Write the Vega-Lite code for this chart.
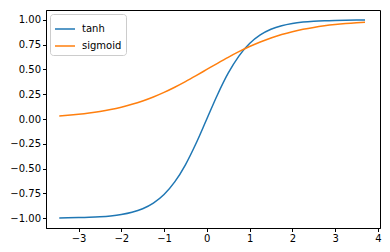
{
  "$schema": "https://vega.github.io/schema/vega-lite/v6.json",
  "autosize": {"type": "none"},
  "padding": {"left": 46, "top": 10, "right": 10, "bottom": 24},
  "width": 334,
  "height": 218,
  "background": "white",
  "config": {
    "font": "DejaVu Sans",
    "view": {"stroke": "black", "strokeWidth": 1},
    "axis": {
      "grid": false,
      "domainColor": "black",
      "tickColor": "black",
      "labelColor": "black",
      "labelFontSize": 10,
      "tickSize": 3.5,
      "labelPadding": 2,
      "title": null
    }
  },
  "data": {
    "values": [
      {"x": -3.45, "tanh": -0.9980, "sigmoid": 0.0308},
      {"x": -3.25, "tanh": -0.9970, "sigmoid": 0.0373},
      {"x": -3.0, "tanh": -0.9951, "sigmoid": 0.0474},
      {"x": -2.75, "tanh": -0.9919, "sigmoid": 0.0601},
      {"x": -2.5, "tanh": -0.9866, "sigmoid": 0.0759},
      {"x": -2.25, "tanh": -0.9780, "sigmoid": 0.0953},
      {"x": -2.0, "tanh": -0.9640, "sigmoid": 0.1192},
      {"x": -1.75, "tanh": -0.9414, "sigmoid": 0.1480},
      {"x": -1.5, "tanh": -0.9051, "sigmoid": 0.1824},
      {"x": -1.25, "tanh": -0.8483, "sigmoid": 0.2227},
      {"x": -1.0, "tanh": -0.7616, "sigmoid": 0.2689},
      {"x": -0.75, "tanh": -0.6351, "sigmoid": 0.3208},
      {"x": -0.5, "tanh": -0.4621, "sigmoid": 0.3775},
      {"x": -0.25, "tanh": -0.2449, "sigmoid": 0.4378},
      {"x": 0.0, "tanh": 0.0, "sigmoid": 0.5},
      {"x": 0.25, "tanh": 0.2449, "sigmoid": 0.5622},
      {"x": 0.5, "tanh": 0.4621, "sigmoid": 0.6225},
      {"x": 0.75, "tanh": 0.6351, "sigmoid": 0.6792},
      {"x": 1.0, "tanh": 0.7616, "sigmoid": 0.7311},
      {"x": 1.25, "tanh": 0.8483, "sigmoid": 0.7773},
      {"x": 1.5, "tanh": 0.9051, "sigmoid": 0.8176},
      {"x": 1.75, "tanh": 0.9414, "sigmoid": 0.8520},
      {"x": 2.0, "tanh": 0.9640, "sigmoid": 0.8808},
      {"x": 2.25, "tanh": 0.9780, "sigmoid": 0.9047},
      {"x": 2.5, "tanh": 0.9866, "sigmoid": 0.9241},
      {"x": 2.75, "tanh": 0.9919, "sigmoid": 0.9399},
      {"x": 3.0, "tanh": 0.9951, "sigmoid": 0.9526},
      {"x": 3.25, "tanh": 0.9970, "sigmoid": 0.9627},
      {"x": 3.5, "tanh": 0.9982, "sigmoid": 0.9707},
      {"x": 3.7, "tanh": 0.9988, "sigmoid": 0.9759}
    ]
  },
  "transform": [{"fold": ["tanh", "sigmoid"], "as": ["series", "y"]}],
  "mark": {"type": "line", "strokeWidth": 1.5, "interpolate": "monotone"},
  "encoding": {
    "x": {
      "field": "x", "type": "quantitative",
      "scale": {"domain": [-3.76, 4.05], "nice": false, "zero": false},
      "axis": {"values": [-3, -2, -1, 0, 1, 2, 3, 4], "format": "d"}
    },
    "y": {
      "field": "y", "type": "quantitative",
      "scale": {"domain": [-1.1, 1.1], "nice": false},
      "axis": {"values": [-1, -0.75, -0.5, -0.25, 0, 0.25, 0.5, 0.75, 1], "format": ".2f"}
    },
    "color": {
      "field": "series", "type": "nominal",
      "scale": {"domain": ["tanh", "sigmoid"], "range": ["#1f77b4", "#ff7f0e"]},
      "legend": {
        "title": null,
        "orient": "top-left",
        "offset": 4,
        "fillColor": "white",
        "strokeColor": "#cccccc",
        "cornerRadius": 3,
        "padding": 4,
        "symbolType": "stroke",
        "symbolSize": 400,
        "symbolStrokeWidth": 1.5,
        "labelFontSize": 10,
        "labelColor": "black",
        "labelOffset": 6,
        "rowPadding": 1
      }
    }
  }
}
